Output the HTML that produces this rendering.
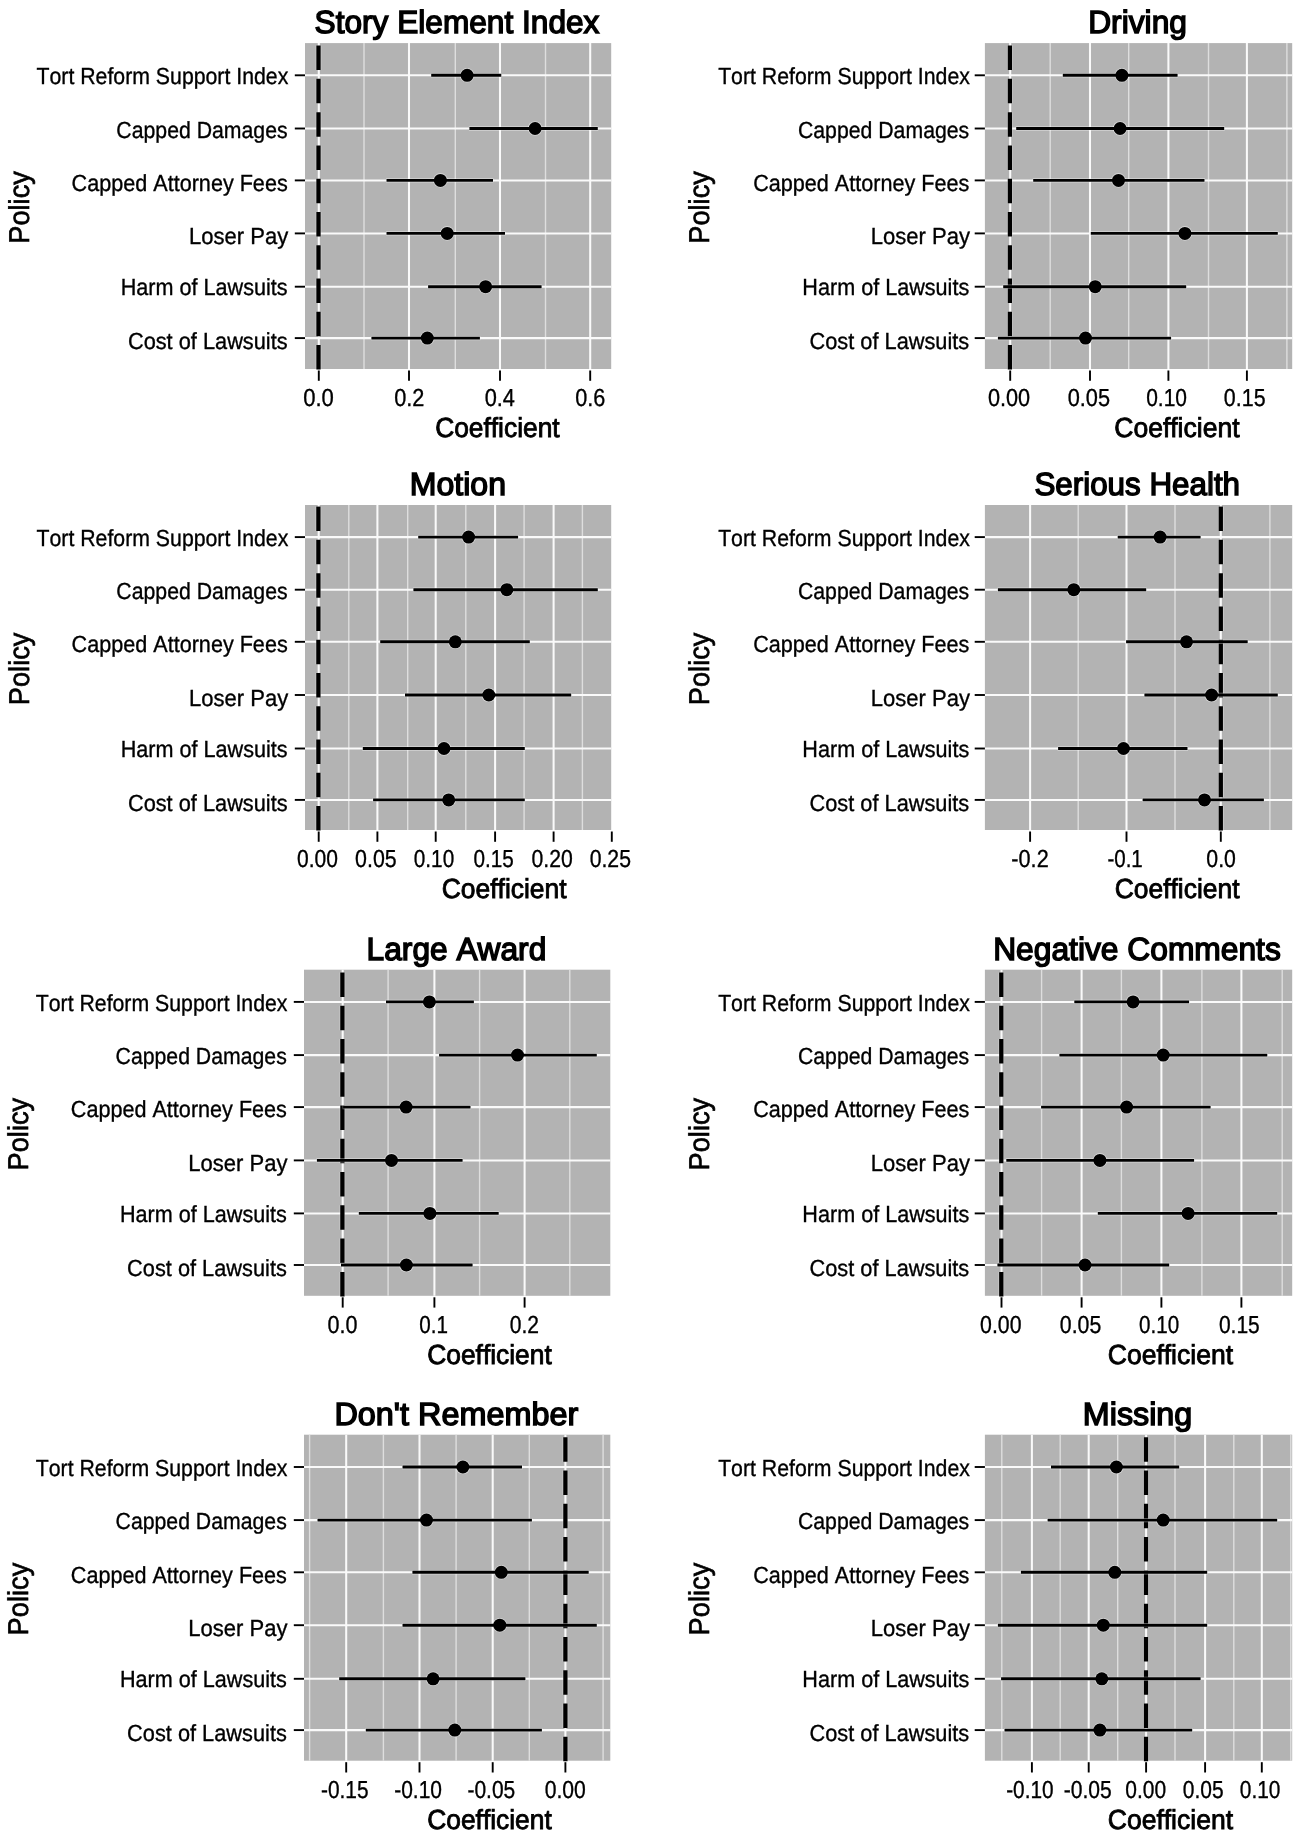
<!DOCTYPE html>
<html><head><meta charset="utf-8"><title>Coefficient plots</title>
<style>
html,body{margin:0;padding:0;background:#fff;}
svg{display:block;}
text{font-kerning:none;text-rendering:geometricPrecision;font-family:"Liberation Sans",Arial,Helvetica,sans-serif;fill:#000;}
</style></head><body>
<svg width="1300" height="1835" viewBox="0 0 1300 1835">
<defs><filter id="soft" x="0" y="0" width="1300" height="1835" filterUnits="userSpaceOnUse"><feGaussianBlur stdDeviation="0.45"/></filter></defs>
<g filter="url(#soft)">
<rect width="1300" height="1835" fill="#fff"/>
<rect x="305.0" y="43.1" width="306.20" height="325.90" fill="#b3b3b3"/>
<line x1="364.0" x2="364.0" y1="43.1" y2="369.0" stroke="#dedede" stroke-width="1.4"/>
<line x1="455.3" x2="455.3" y1="43.1" y2="369.0" stroke="#dedede" stroke-width="1.4"/>
<line x1="545.5" x2="545.5" y1="43.1" y2="369.0" stroke="#dedede" stroke-width="1.4"/>
<line x1="318.8" x2="318.8" y1="43.1" y2="369.0" stroke="#fafafa" stroke-width="2.05"/>
<line x1="409.0" x2="409.0" y1="43.1" y2="369.0" stroke="#fafafa" stroke-width="2.05"/>
<line x1="500.0" x2="500.0" y1="43.1" y2="369.0" stroke="#fafafa" stroke-width="2.05"/>
<line x1="590.2" x2="590.2" y1="43.1" y2="369.0" stroke="#fafafa" stroke-width="2.05"/>
<line x1="305.0" x2="611.2" y1="75.3" y2="75.3" stroke="#fafafa" stroke-width="2.05"/>
<line x1="305.0" x2="611.2" y1="128.5" y2="128.5" stroke="#fafafa" stroke-width="2.05"/>
<line x1="305.0" x2="611.2" y1="180.4" y2="180.4" stroke="#fafafa" stroke-width="2.05"/>
<line x1="305.0" x2="611.2" y1="233.4" y2="233.4" stroke="#fafafa" stroke-width="2.05"/>
<line x1="305.0" x2="611.2" y1="286.7" y2="286.7" stroke="#fafafa" stroke-width="2.05"/>
<line x1="305.0" x2="611.2" y1="338.1" y2="338.1" stroke="#fafafa" stroke-width="2.05"/>
<line x1="318.5" x2="318.5" y1="369.6" y2="43.1" stroke="#fff" stroke-opacity="0.4" stroke-width="5.6" stroke-dasharray="24.5 8.78"/>
<line x1="318.5" x2="318.5" y1="369.6" y2="43.1" stroke="#000" stroke-width="4.3" stroke-dasharray="24.5 8.78"/>
<line x1="430.7" x2="501.8" y1="75.3" y2="75.3" stroke="#fff" stroke-opacity="0.45" stroke-width="4.3"/>
<circle cx="467.1" cy="75.3" r="7.3" fill="#fff" fill-opacity="0.45"/>
<line x1="431.2" x2="501.3" y1="75.3" y2="75.3" stroke="#000" stroke-width="2.9"/>
<circle cx="467.1" cy="75.3" r="6.5" fill="#000"/>
<line x1="468.9" x2="598.3" y1="128.5" y2="128.5" stroke="#fff" stroke-opacity="0.45" stroke-width="4.3"/>
<circle cx="535.1" cy="128.5" r="7.3" fill="#fff" fill-opacity="0.45"/>
<line x1="469.4" x2="597.8" y1="128.5" y2="128.5" stroke="#000" stroke-width="2.9"/>
<circle cx="535.1" cy="128.5" r="6.5" fill="#000"/>
<line x1="386.0" x2="493.5" y1="180.4" y2="180.4" stroke="#fff" stroke-opacity="0.45" stroke-width="4.3"/>
<circle cx="440.4" cy="180.4" r="7.3" fill="#fff" fill-opacity="0.45"/>
<line x1="386.5" x2="493.0" y1="180.4" y2="180.4" stroke="#000" stroke-width="2.9"/>
<circle cx="440.4" cy="180.4" r="6.5" fill="#000"/>
<line x1="386.0" x2="505.5" y1="233.4" y2="233.4" stroke="#fff" stroke-opacity="0.45" stroke-width="4.3"/>
<circle cx="447.2" cy="233.4" r="7.3" fill="#fff" fill-opacity="0.45"/>
<line x1="386.5" x2="505.0" y1="233.4" y2="233.4" stroke="#000" stroke-width="2.9"/>
<circle cx="447.2" cy="233.4" r="6.5" fill="#000"/>
<line x1="427.6" x2="542.1" y1="286.7" y2="286.7" stroke="#fff" stroke-opacity="0.45" stroke-width="4.3"/>
<circle cx="485.6" cy="286.7" r="7.3" fill="#fff" fill-opacity="0.45"/>
<line x1="428.1" x2="541.6" y1="286.7" y2="286.7" stroke="#000" stroke-width="2.9"/>
<circle cx="485.6" cy="286.7" r="6.5" fill="#000"/>
<line x1="370.9" x2="480.4" y1="338.1" y2="338.1" stroke="#fff" stroke-opacity="0.45" stroke-width="4.3"/>
<circle cx="427.3" cy="338.1" r="7.3" fill="#fff" fill-opacity="0.45"/>
<line x1="371.4" x2="479.9" y1="338.1" y2="338.1" stroke="#000" stroke-width="2.9"/>
<circle cx="427.3" cy="338.1" r="6.5" fill="#000"/>
<line x1="294.8" x2="305.0" y1="75.3" y2="75.3" stroke="#000" stroke-width="1.9"/>
<text transform="translate(36.53,84.30) scale(0.9171,1)" font-size="23.2" stroke="#000" stroke-width="0.35">Tort Reform Support Index</text>
<line x1="294.8" x2="305.0" y1="128.5" y2="128.5" stroke="#000" stroke-width="1.9"/>
<text transform="translate(116.34,137.50) scale(0.9163,1)" font-size="23.2" stroke="#000" stroke-width="0.35">Capped Damages</text>
<line x1="294.8" x2="305.0" y1="180.4" y2="180.4" stroke="#000" stroke-width="1.9"/>
<text transform="translate(71.62,190.70) scale(0.9313,1)" font-size="23.2" stroke="#000" stroke-width="0.35">Capped Attorney Fees</text>
<line x1="294.8" x2="305.0" y1="233.4" y2="233.4" stroke="#000" stroke-width="1.9"/>
<text transform="translate(189.09,244.30) scale(0.9503,1)" font-size="23.2" stroke="#000" stroke-width="0.35">Loser Pay</text>
<line x1="294.8" x2="305.0" y1="286.7" y2="286.7" stroke="#000" stroke-width="1.9"/>
<text transform="translate(120.73,294.90) scale(0.9317,1)" font-size="23.2" stroke="#000" stroke-width="0.35">Harm of Lawsuits</text>
<line x1="294.8" x2="305.0" y1="338.1" y2="338.1" stroke="#000" stroke-width="1.9"/>
<text transform="translate(127.91,349.00) scale(0.9388,1)" font-size="23.2" stroke="#000" stroke-width="0.35">Cost of Lawsuits</text>
<line x1="318.8" x2="318.8" y1="370.5" y2="380.8" stroke="#000" stroke-width="1.9"/>
<line x1="409.0" x2="409.0" y1="370.5" y2="380.8" stroke="#000" stroke-width="1.9"/>
<line x1="500.0" x2="500.0" y1="370.5" y2="380.8" stroke="#000" stroke-width="1.9"/>
<line x1="590.2" x2="590.2" y1="370.5" y2="380.8" stroke="#000" stroke-width="1.9"/>
<text transform="translate(303.14,405.80) scale(0.8978,1)" font-size="24.6" stroke="#000" stroke-width="0.35">0.0</text>
<text transform="translate(394.15,405.80) scale(0.8842,1)" font-size="24.6" stroke="#000" stroke-width="0.35">0.2</text>
<text transform="translate(484.65,405.80) scale(0.8856,1)" font-size="24.6" stroke="#000" stroke-width="0.35">0.4</text>
<text transform="translate(575.16,405.80) scale(0.8795,1)" font-size="24.6" stroke="#000" stroke-width="0.35">0.6</text>
<text transform="translate(435.18,437.00) scale(0.9576,1)" font-size="27.5" stroke="#000" stroke-width="0.85">Coefficient</text>
<text transform="translate(29.20,243.78) rotate(-90) scale(0.9530,1)" font-size="28.6" stroke="#000" stroke-width="0.7">Policy</text>
<text transform="translate(314.58,32.60) scale(0.9886,1)" font-size="32.0" stroke="#000" stroke-width="1.45">Story Element Index</text>
<rect x="984.9" y="43.1" width="307.30" height="325.90" fill="#b3b3b3"/>
<line x1="1050.2" x2="1050.2" y1="43.1" y2="369.0" stroke="#dedede" stroke-width="1.4"/>
<line x1="1128.7" x2="1128.7" y1="43.1" y2="369.0" stroke="#dedede" stroke-width="1.4"/>
<line x1="1208.5" x2="1208.5" y1="43.1" y2="369.0" stroke="#dedede" stroke-width="1.4"/>
<line x1="1286.9" x2="1286.9" y1="43.1" y2="369.0" stroke="#dedede" stroke-width="1.4"/>
<line x1="1010.2" x2="1010.2" y1="43.1" y2="369.0" stroke="#fafafa" stroke-width="2.05"/>
<line x1="1090.0" x2="1090.0" y1="43.1" y2="369.0" stroke="#fafafa" stroke-width="2.05"/>
<line x1="1168.4" x2="1168.4" y1="43.1" y2="369.0" stroke="#fafafa" stroke-width="2.05"/>
<line x1="1246.9" x2="1246.9" y1="43.1" y2="369.0" stroke="#fafafa" stroke-width="2.05"/>
<line x1="984.9" x2="1292.2" y1="75.3" y2="75.3" stroke="#fafafa" stroke-width="2.05"/>
<line x1="984.9" x2="1292.2" y1="128.5" y2="128.5" stroke="#fafafa" stroke-width="2.05"/>
<line x1="984.9" x2="1292.2" y1="180.4" y2="180.4" stroke="#fafafa" stroke-width="2.05"/>
<line x1="984.9" x2="1292.2" y1="233.4" y2="233.4" stroke="#fafafa" stroke-width="2.05"/>
<line x1="984.9" x2="1292.2" y1="286.7" y2="286.7" stroke="#fafafa" stroke-width="2.05"/>
<line x1="984.9" x2="1292.2" y1="338.1" y2="338.1" stroke="#fafafa" stroke-width="2.05"/>
<line x1="1009.9" x2="1009.9" y1="369.6" y2="43.1" stroke="#fff" stroke-opacity="0.4" stroke-width="5.6" stroke-dasharray="24.5 8.78"/>
<line x1="1009.9" x2="1009.9" y1="369.6" y2="43.1" stroke="#000" stroke-width="4.3" stroke-dasharray="24.5 8.78"/>
<line x1="1062.3" x2="1178.1" y1="75.3" y2="75.3" stroke="#fff" stroke-opacity="0.45" stroke-width="4.3"/>
<circle cx="1121.9" cy="75.3" r="7.3" fill="#fff" fill-opacity="0.45"/>
<line x1="1062.8" x2="1177.6" y1="75.3" y2="75.3" stroke="#000" stroke-width="2.9"/>
<circle cx="1121.9" cy="75.3" r="6.5" fill="#000"/>
<line x1="1015.7" x2="1224.7" y1="128.5" y2="128.5" stroke="#fff" stroke-opacity="0.45" stroke-width="4.3"/>
<circle cx="1120.1" cy="128.5" r="7.3" fill="#fff" fill-opacity="0.45"/>
<line x1="1016.2" x2="1224.2" y1="128.5" y2="128.5" stroke="#000" stroke-width="2.9"/>
<circle cx="1120.1" cy="128.5" r="6.5" fill="#000"/>
<line x1="1032.7" x2="1205.0" y1="180.4" y2="180.4" stroke="#fff" stroke-opacity="0.45" stroke-width="4.3"/>
<circle cx="1118.5" cy="180.4" r="7.3" fill="#fff" fill-opacity="0.45"/>
<line x1="1033.2" x2="1204.5" y1="180.4" y2="180.4" stroke="#000" stroke-width="2.9"/>
<circle cx="1118.5" cy="180.4" r="6.5" fill="#000"/>
<line x1="1090.3" x2="1278.3" y1="233.4" y2="233.4" stroke="#fff" stroke-opacity="0.45" stroke-width="4.3"/>
<circle cx="1184.9" cy="233.4" r="7.3" fill="#fff" fill-opacity="0.45"/>
<line x1="1090.8" x2="1277.8" y1="233.4" y2="233.4" stroke="#000" stroke-width="2.9"/>
<circle cx="1184.9" cy="233.4" r="6.5" fill="#000"/>
<line x1="1002.7" x2="1186.7" y1="286.7" y2="286.7" stroke="#fff" stroke-opacity="0.45" stroke-width="4.3"/>
<circle cx="1095.2" cy="286.7" r="7.3" fill="#fff" fill-opacity="0.45"/>
<line x1="1003.2" x2="1186.2" y1="286.7" y2="286.7" stroke="#000" stroke-width="2.9"/>
<circle cx="1095.2" cy="286.7" r="6.5" fill="#000"/>
<line x1="997.4" x2="1171.6" y1="338.1" y2="338.1" stroke="#fff" stroke-opacity="0.45" stroke-width="4.3"/>
<circle cx="1085.5" cy="338.1" r="7.3" fill="#fff" fill-opacity="0.45"/>
<line x1="997.9" x2="1171.1" y1="338.1" y2="338.1" stroke="#000" stroke-width="2.9"/>
<circle cx="1085.5" cy="338.1" r="6.5" fill="#000"/>
<line x1="974.6999999999999" x2="984.9" y1="75.3" y2="75.3" stroke="#000" stroke-width="1.9"/>
<text transform="translate(718.13,84.30) scale(0.9171,1)" font-size="23.2" stroke="#000" stroke-width="0.35">Tort Reform Support Index</text>
<line x1="974.6999999999999" x2="984.9" y1="128.5" y2="128.5" stroke="#000" stroke-width="1.9"/>
<text transform="translate(797.94,137.50) scale(0.9163,1)" font-size="23.2" stroke="#000" stroke-width="0.35">Capped Damages</text>
<line x1="974.6999999999999" x2="984.9" y1="180.4" y2="180.4" stroke="#000" stroke-width="1.9"/>
<text transform="translate(753.22,190.70) scale(0.9313,1)" font-size="23.2" stroke="#000" stroke-width="0.35">Capped Attorney Fees</text>
<line x1="974.6999999999999" x2="984.9" y1="233.4" y2="233.4" stroke="#000" stroke-width="1.9"/>
<text transform="translate(870.69,244.30) scale(0.9503,1)" font-size="23.2" stroke="#000" stroke-width="0.35">Loser Pay</text>
<line x1="974.6999999999999" x2="984.9" y1="286.7" y2="286.7" stroke="#000" stroke-width="1.9"/>
<text transform="translate(802.33,294.90) scale(0.9317,1)" font-size="23.2" stroke="#000" stroke-width="0.35">Harm of Lawsuits</text>
<line x1="974.6999999999999" x2="984.9" y1="338.1" y2="338.1" stroke="#000" stroke-width="1.9"/>
<text transform="translate(809.51,349.00) scale(0.9388,1)" font-size="23.2" stroke="#000" stroke-width="0.35">Cost of Lawsuits</text>
<line x1="1010.2" x2="1010.2" y1="370.5" y2="380.8" stroke="#000" stroke-width="1.9"/>
<line x1="1090.0" x2="1090.0" y1="370.5" y2="380.8" stroke="#000" stroke-width="1.9"/>
<line x1="1168.4" x2="1168.4" y1="370.5" y2="380.8" stroke="#000" stroke-width="1.9"/>
<line x1="1246.9" x2="1246.9" y1="370.5" y2="380.8" stroke="#000" stroke-width="1.9"/>
<text transform="translate(987.95,405.80) scale(0.8809,1)" font-size="24.6" stroke="#000" stroke-width="0.35">0.00</text>
<text transform="translate(1067.65,405.80) scale(0.8845,1)" font-size="24.6" stroke="#000" stroke-width="0.35">0.05</text>
<text transform="translate(1146.18,405.80) scale(0.8526,1)" font-size="24.6" stroke="#000" stroke-width="0.35">0.10</text>
<text transform="translate(1223.86,405.80) scale(0.8714,1)" font-size="24.6" stroke="#000" stroke-width="0.35">0.15</text>
<text transform="translate(1114.27,437.00) scale(0.9638,1)" font-size="27.5" stroke="#000" stroke-width="0.85">Coefficient</text>
<text transform="translate(709.30,243.78) rotate(-90) scale(0.9530,1)" font-size="28.6" stroke="#000" stroke-width="0.7">Policy</text>
<text transform="translate(1088.20,32.60) scale(0.9918,1)" font-size="32.0" stroke="#000" stroke-width="1.45">Driving</text>
<rect x="305.0" y="505.0" width="306.20" height="325.00" fill="#b3b3b3"/>
<line x1="348.8" x2="348.8" y1="505.0" y2="830.0" stroke="#dedede" stroke-width="1.4"/>
<line x1="407.7" x2="407.7" y1="505.0" y2="830.0" stroke="#dedede" stroke-width="1.4"/>
<line x1="465.8" x2="465.8" y1="505.0" y2="830.0" stroke="#dedede" stroke-width="1.4"/>
<line x1="524.1" x2="524.1" y1="505.0" y2="830.0" stroke="#dedede" stroke-width="1.4"/>
<line x1="582.4" x2="582.4" y1="505.0" y2="830.0" stroke="#dedede" stroke-width="1.4"/>
<line x1="318.7" x2="318.7" y1="505.0" y2="830.0" stroke="#fafafa" stroke-width="2.05"/>
<line x1="377.4" x2="377.4" y1="505.0" y2="830.0" stroke="#fafafa" stroke-width="2.05"/>
<line x1="435.7" x2="435.7" y1="505.0" y2="830.0" stroke="#fafafa" stroke-width="2.05"/>
<line x1="495.1" x2="495.1" y1="505.0" y2="830.0" stroke="#fafafa" stroke-width="2.05"/>
<line x1="553.6" x2="553.6" y1="505.0" y2="830.0" stroke="#fafafa" stroke-width="2.05"/>
<line x1="305.0" x2="611.2" y1="537.1" y2="537.1" stroke="#fafafa" stroke-width="2.05"/>
<line x1="305.0" x2="611.2" y1="589.7" y2="589.7" stroke="#fafafa" stroke-width="2.05"/>
<line x1="305.0" x2="611.2" y1="641.8" y2="641.8" stroke="#fafafa" stroke-width="2.05"/>
<line x1="305.0" x2="611.2" y1="695.0" y2="695.0" stroke="#fafafa" stroke-width="2.05"/>
<line x1="305.0" x2="611.2" y1="748.5" y2="748.5" stroke="#fafafa" stroke-width="2.05"/>
<line x1="305.0" x2="611.2" y1="799.9" y2="799.9" stroke="#fafafa" stroke-width="2.05"/>
<line x1="318.4" x2="318.4" y1="830.6" y2="505.0" stroke="#fff" stroke-opacity="0.4" stroke-width="5.6" stroke-dasharray="24.5 8.78"/>
<line x1="318.4" x2="318.4" y1="830.6" y2="505.0" stroke="#000" stroke-width="4.3" stroke-dasharray="24.5 8.78"/>
<line x1="417.7" x2="518.6" y1="537.1" y2="537.1" stroke="#fff" stroke-opacity="0.45" stroke-width="4.3"/>
<circle cx="468.6" cy="537.1" r="7.3" fill="#fff" fill-opacity="0.45"/>
<line x1="418.2" x2="518.1" y1="537.1" y2="537.1" stroke="#000" stroke-width="2.9"/>
<circle cx="468.6" cy="537.1" r="6.5" fill="#000"/>
<line x1="412.9" x2="598.3" y1="589.7" y2="589.7" stroke="#fff" stroke-opacity="0.45" stroke-width="4.3"/>
<circle cx="506.8" cy="589.7" r="7.3" fill="#fff" fill-opacity="0.45"/>
<line x1="413.4" x2="597.8" y1="589.7" y2="589.7" stroke="#000" stroke-width="2.9"/>
<circle cx="506.8" cy="589.7" r="6.5" fill="#000"/>
<line x1="379.7" x2="530.3" y1="641.8" y2="641.8" stroke="#fff" stroke-opacity="0.45" stroke-width="4.3"/>
<circle cx="455.3" cy="641.8" r="7.3" fill="#fff" fill-opacity="0.45"/>
<line x1="380.2" x2="529.8" y1="641.8" y2="641.8" stroke="#000" stroke-width="2.9"/>
<circle cx="455.3" cy="641.8" r="6.5" fill="#000"/>
<line x1="404.5" x2="571.7" y1="695.0" y2="695.0" stroke="#fff" stroke-opacity="0.45" stroke-width="4.3"/>
<circle cx="488.8" cy="695.0" r="7.3" fill="#fff" fill-opacity="0.45"/>
<line x1="405.0" x2="571.2" y1="695.0" y2="695.0" stroke="#000" stroke-width="2.9"/>
<circle cx="488.8" cy="695.0" r="6.5" fill="#000"/>
<line x1="362.3" x2="525.3" y1="748.5" y2="748.5" stroke="#fff" stroke-opacity="0.45" stroke-width="4.3"/>
<circle cx="444.0" cy="748.5" r="7.3" fill="#fff" fill-opacity="0.45"/>
<line x1="362.8" x2="524.8" y1="748.5" y2="748.5" stroke="#000" stroke-width="2.9"/>
<circle cx="444.0" cy="748.5" r="6.5" fill="#000"/>
<line x1="372.6" x2="525.3" y1="799.9" y2="799.9" stroke="#fff" stroke-opacity="0.45" stroke-width="4.3"/>
<circle cx="448.7" cy="799.9" r="7.3" fill="#fff" fill-opacity="0.45"/>
<line x1="373.1" x2="524.8" y1="799.9" y2="799.9" stroke="#000" stroke-width="2.9"/>
<circle cx="448.7" cy="799.9" r="6.5" fill="#000"/>
<line x1="294.8" x2="305.0" y1="537.1" y2="537.1" stroke="#000" stroke-width="1.9"/>
<text transform="translate(36.53,546.10) scale(0.9171,1)" font-size="23.2" stroke="#000" stroke-width="0.35">Tort Reform Support Index</text>
<line x1="294.8" x2="305.0" y1="589.7" y2="589.7" stroke="#000" stroke-width="1.9"/>
<text transform="translate(116.34,598.70) scale(0.9163,1)" font-size="23.2" stroke="#000" stroke-width="0.35">Capped Damages</text>
<line x1="294.8" x2="305.0" y1="641.8" y2="641.8" stroke="#000" stroke-width="1.9"/>
<text transform="translate(71.62,652.10) scale(0.9313,1)" font-size="23.2" stroke="#000" stroke-width="0.35">Capped Attorney Fees</text>
<line x1="294.8" x2="305.0" y1="695.0" y2="695.0" stroke="#000" stroke-width="1.9"/>
<text transform="translate(189.09,705.90) scale(0.9503,1)" font-size="23.2" stroke="#000" stroke-width="0.35">Loser Pay</text>
<line x1="294.8" x2="305.0" y1="748.5" y2="748.5" stroke="#000" stroke-width="1.9"/>
<text transform="translate(120.73,756.70) scale(0.9317,1)" font-size="23.2" stroke="#000" stroke-width="0.35">Harm of Lawsuits</text>
<line x1="294.8" x2="305.0" y1="799.9" y2="799.9" stroke="#000" stroke-width="1.9"/>
<text transform="translate(127.91,810.80) scale(0.9388,1)" font-size="23.2" stroke="#000" stroke-width="0.35">Cost of Lawsuits</text>
<line x1="318.7" x2="318.7" y1="831.5" y2="841.8" stroke="#000" stroke-width="1.9"/>
<line x1="377.4" x2="377.4" y1="831.5" y2="841.8" stroke="#000" stroke-width="1.9"/>
<line x1="435.7" x2="435.7" y1="831.5" y2="841.8" stroke="#000" stroke-width="1.9"/>
<line x1="495.1" x2="495.1" y1="831.5" y2="841.8" stroke="#000" stroke-width="1.9"/>
<line x1="553.6" x2="553.6" y1="831.5" y2="841.8" stroke="#000" stroke-width="1.9"/>
<line x1="611.8" x2="611.8" y1="831.5" y2="841.8" stroke="#000" stroke-width="1.9"/>
<text transform="translate(296.98,866.80) scale(0.8548,1)" font-size="24.6" stroke="#000" stroke-width="0.35">0.00</text>
<text transform="translate(355.07,866.80) scale(0.8692,1)" font-size="24.6" stroke="#000" stroke-width="0.35">0.05</text>
<text transform="translate(413.79,866.80) scale(0.8439,1)" font-size="24.6" stroke="#000" stroke-width="0.35">0.10</text>
<text transform="translate(473.39,866.80) scale(0.8431,1)" font-size="24.6" stroke="#000" stroke-width="0.35">0.15</text>
<text transform="translate(531.47,866.80) scale(0.8613,1)" font-size="24.6" stroke="#000" stroke-width="0.35">0.20</text>
<text transform="translate(589.67,866.80) scale(0.8627,1)" font-size="24.6" stroke="#000" stroke-width="0.35">0.25</text>
<text transform="translate(441.78,898.00) scale(0.9607,1)" font-size="27.5" stroke="#000" stroke-width="0.85">Coefficient</text>
<text transform="translate(29.20,705.23) rotate(-90) scale(0.9530,1)" font-size="28.6" stroke="#000" stroke-width="0.7">Policy</text>
<text transform="translate(409.77,494.50) scale(1.0015,1)" font-size="32.0" stroke="#000" stroke-width="1.45">Motion</text>
<rect x="984.9" y="505.0" width="307.30" height="325.00" fill="#b3b3b3"/>
<line x1="1078.2" x2="1078.2" y1="505.0" y2="830.0" stroke="#dedede" stroke-width="1.4"/>
<line x1="1175.0" x2="1175.0" y1="505.0" y2="830.0" stroke="#dedede" stroke-width="1.4"/>
<line x1="1269.9" x2="1269.9" y1="505.0" y2="830.0" stroke="#dedede" stroke-width="1.4"/>
<line x1="1030.1" x2="1030.1" y1="505.0" y2="830.0" stroke="#fafafa" stroke-width="2.05"/>
<line x1="1126.5" x2="1126.5" y1="505.0" y2="830.0" stroke="#fafafa" stroke-width="2.05"/>
<line x1="1220.8" x2="1220.8" y1="505.0" y2="830.0" stroke="#fafafa" stroke-width="2.05"/>
<line x1="984.9" x2="1292.2" y1="537.1" y2="537.1" stroke="#fafafa" stroke-width="2.05"/>
<line x1="984.9" x2="1292.2" y1="589.7" y2="589.7" stroke="#fafafa" stroke-width="2.05"/>
<line x1="984.9" x2="1292.2" y1="641.8" y2="641.8" stroke="#fafafa" stroke-width="2.05"/>
<line x1="984.9" x2="1292.2" y1="695.0" y2="695.0" stroke="#fafafa" stroke-width="2.05"/>
<line x1="984.9" x2="1292.2" y1="748.5" y2="748.5" stroke="#fafafa" stroke-width="2.05"/>
<line x1="984.9" x2="1292.2" y1="799.9" y2="799.9" stroke="#fafafa" stroke-width="2.05"/>
<line x1="1220.8" x2="1220.8" y1="830.6" y2="505.0" stroke="#fff" stroke-opacity="0.4" stroke-width="5.6" stroke-dasharray="24.5 8.78"/>
<line x1="1220.8" x2="1220.8" y1="830.6" y2="505.0" stroke="#000" stroke-width="4.3" stroke-dasharray="24.5 8.78"/>
<line x1="1117.2" x2="1201.1" y1="537.1" y2="537.1" stroke="#fff" stroke-opacity="0.45" stroke-width="4.3"/>
<circle cx="1160.1" cy="537.1" r="7.3" fill="#fff" fill-opacity="0.45"/>
<line x1="1117.7" x2="1200.6" y1="537.1" y2="537.1" stroke="#000" stroke-width="2.9"/>
<circle cx="1160.1" cy="537.1" r="6.5" fill="#000"/>
<line x1="997.4" x2="1146.7" y1="589.7" y2="589.7" stroke="#fff" stroke-opacity="0.45" stroke-width="4.3"/>
<circle cx="1073.8" cy="589.7" r="7.3" fill="#fff" fill-opacity="0.45"/>
<line x1="997.9" x2="1146.2" y1="589.7" y2="589.7" stroke="#000" stroke-width="2.9"/>
<circle cx="1073.8" cy="589.7" r="6.5" fill="#000"/>
<line x1="1125.6" x2="1248.2" y1="641.8" y2="641.8" stroke="#fff" stroke-opacity="0.45" stroke-width="4.3"/>
<circle cx="1186.5" cy="641.8" r="7.3" fill="#fff" fill-opacity="0.45"/>
<line x1="1126.1" x2="1247.7" y1="641.8" y2="641.8" stroke="#000" stroke-width="2.9"/>
<circle cx="1186.5" cy="641.8" r="6.5" fill="#000"/>
<line x1="1143.9" x2="1278.3" y1="695.0" y2="695.0" stroke="#fff" stroke-opacity="0.45" stroke-width="4.3"/>
<circle cx="1211.6" cy="695.0" r="7.3" fill="#fff" fill-opacity="0.45"/>
<line x1="1144.4" x2="1277.8" y1="695.0" y2="695.0" stroke="#000" stroke-width="2.9"/>
<circle cx="1211.6" cy="695.0" r="6.5" fill="#000"/>
<line x1="1057.6" x2="1188.0" y1="748.5" y2="748.5" stroke="#fff" stroke-opacity="0.45" stroke-width="4.3"/>
<circle cx="1123.5" cy="748.5" r="7.3" fill="#fff" fill-opacity="0.45"/>
<line x1="1058.1" x2="1187.5" y1="748.5" y2="748.5" stroke="#000" stroke-width="2.9"/>
<circle cx="1123.5" cy="748.5" r="6.5" fill="#000"/>
<line x1="1142.1" x2="1264.4" y1="799.9" y2="799.9" stroke="#fff" stroke-opacity="0.45" stroke-width="4.3"/>
<circle cx="1204.5" cy="799.9" r="7.3" fill="#fff" fill-opacity="0.45"/>
<line x1="1142.6" x2="1263.9" y1="799.9" y2="799.9" stroke="#000" stroke-width="2.9"/>
<circle cx="1204.5" cy="799.9" r="6.5" fill="#000"/>
<line x1="974.6999999999999" x2="984.9" y1="537.1" y2="537.1" stroke="#000" stroke-width="1.9"/>
<text transform="translate(718.13,546.10) scale(0.9171,1)" font-size="23.2" stroke="#000" stroke-width="0.35">Tort Reform Support Index</text>
<line x1="974.6999999999999" x2="984.9" y1="589.7" y2="589.7" stroke="#000" stroke-width="1.9"/>
<text transform="translate(797.94,598.70) scale(0.9163,1)" font-size="23.2" stroke="#000" stroke-width="0.35">Capped Damages</text>
<line x1="974.6999999999999" x2="984.9" y1="641.8" y2="641.8" stroke="#000" stroke-width="1.9"/>
<text transform="translate(753.22,652.10) scale(0.9313,1)" font-size="23.2" stroke="#000" stroke-width="0.35">Capped Attorney Fees</text>
<line x1="974.6999999999999" x2="984.9" y1="695.0" y2="695.0" stroke="#000" stroke-width="1.9"/>
<text transform="translate(870.69,705.90) scale(0.9503,1)" font-size="23.2" stroke="#000" stroke-width="0.35">Loser Pay</text>
<line x1="974.6999999999999" x2="984.9" y1="748.5" y2="748.5" stroke="#000" stroke-width="1.9"/>
<text transform="translate(802.33,756.70) scale(0.9317,1)" font-size="23.2" stroke="#000" stroke-width="0.35">Harm of Lawsuits</text>
<line x1="974.6999999999999" x2="984.9" y1="799.9" y2="799.9" stroke="#000" stroke-width="1.9"/>
<text transform="translate(809.51,810.80) scale(0.9388,1)" font-size="23.2" stroke="#000" stroke-width="0.35">Cost of Lawsuits</text>
<line x1="1030.1" x2="1030.1" y1="831.5" y2="841.8" stroke="#000" stroke-width="1.9"/>
<line x1="1126.5" x2="1126.5" y1="831.5" y2="841.8" stroke="#000" stroke-width="1.9"/>
<line x1="1220.8" x2="1220.8" y1="831.5" y2="841.8" stroke="#000" stroke-width="1.9"/>
<text transform="translate(1011.35,866.80) scale(0.8809,1)" font-size="24.6" stroke="#000" stroke-width="0.35">-0.2</text>
<text transform="translate(1107.40,866.80) scale(0.8349,1)" font-size="24.6" stroke="#000" stroke-width="0.35">-0.1</text>
<text transform="translate(1206.37,866.80) scale(0.8638,1)" font-size="24.6" stroke="#000" stroke-width="0.35">0.0</text>
<text transform="translate(1114.78,898.00) scale(0.9599,1)" font-size="27.5" stroke="#000" stroke-width="0.85">Coefficient</text>
<text transform="translate(709.30,705.23) rotate(-90) scale(0.9530,1)" font-size="28.6" stroke="#000" stroke-width="0.7">Policy</text>
<text transform="translate(1034.39,494.50) scale(0.9798,1)" font-size="32.0" stroke="#000" stroke-width="1.45">Serious Health</text>
<rect x="304.0" y="969.7" width="306.30" height="326.10" fill="#b3b3b3"/>
<line x1="388.1" x2="388.1" y1="969.7" y2="1295.8" stroke="#dedede" stroke-width="1.4"/>
<line x1="479.6" x2="479.6" y1="969.7" y2="1295.8" stroke="#dedede" stroke-width="1.4"/>
<line x1="569.8" x2="569.8" y1="969.7" y2="1295.8" stroke="#dedede" stroke-width="1.4"/>
<line x1="342.7" x2="342.7" y1="969.7" y2="1295.8" stroke="#fafafa" stroke-width="2.05"/>
<line x1="434.4" x2="434.4" y1="969.7" y2="1295.8" stroke="#fafafa" stroke-width="2.05"/>
<line x1="524.6" x2="524.6" y1="969.7" y2="1295.8" stroke="#fafafa" stroke-width="2.05"/>
<line x1="304.0" x2="610.3" y1="1001.9" y2="1001.9" stroke="#fafafa" stroke-width="2.05"/>
<line x1="304.0" x2="610.3" y1="1055.1" y2="1055.1" stroke="#fafafa" stroke-width="2.05"/>
<line x1="304.0" x2="610.3" y1="1107.1" y2="1107.1" stroke="#fafafa" stroke-width="2.05"/>
<line x1="304.0" x2="610.3" y1="1160.4" y2="1160.4" stroke="#fafafa" stroke-width="2.05"/>
<line x1="304.0" x2="610.3" y1="1213.4" y2="1213.4" stroke="#fafafa" stroke-width="2.05"/>
<line x1="304.0" x2="610.3" y1="1265.0" y2="1265.0" stroke="#fafafa" stroke-width="2.05"/>
<line x1="342.4" x2="342.4" y1="1296.3999999999999" y2="969.7" stroke="#fff" stroke-opacity="0.4" stroke-width="5.6" stroke-dasharray="24.5 8.78"/>
<line x1="342.4" x2="342.4" y1="1296.3999999999999" y2="969.7" stroke="#000" stroke-width="4.3" stroke-dasharray="24.5 8.78"/>
<line x1="385.5" x2="474.4" y1="1001.9" y2="1001.9" stroke="#fff" stroke-opacity="0.45" stroke-width="4.3"/>
<circle cx="429.4" cy="1001.9" r="7.3" fill="#fff" fill-opacity="0.45"/>
<line x1="386.0" x2="473.9" y1="1001.9" y2="1001.9" stroke="#000" stroke-width="2.9"/>
<circle cx="429.4" cy="1001.9" r="6.5" fill="#000"/>
<line x1="438.6" x2="597.3" y1="1055.1" y2="1055.1" stroke="#fff" stroke-opacity="0.45" stroke-width="4.3"/>
<circle cx="517.5" cy="1055.1" r="7.3" fill="#fff" fill-opacity="0.45"/>
<line x1="439.1" x2="596.8" y1="1055.1" y2="1055.1" stroke="#000" stroke-width="2.9"/>
<circle cx="517.5" cy="1055.1" r="6.5" fill="#000"/>
<line x1="342.6" x2="471.0" y1="1107.1" y2="1107.1" stroke="#fff" stroke-opacity="0.45" stroke-width="4.3"/>
<circle cx="406.1" cy="1107.1" r="7.3" fill="#fff" fill-opacity="0.45"/>
<line x1="343.1" x2="470.5" y1="1107.1" y2="1107.1" stroke="#000" stroke-width="2.9"/>
<circle cx="406.1" cy="1107.1" r="6.5" fill="#000"/>
<line x1="316.4" x2="463.1" y1="1160.4" y2="1160.4" stroke="#fff" stroke-opacity="0.45" stroke-width="4.3"/>
<circle cx="391.5" cy="1160.4" r="7.3" fill="#fff" fill-opacity="0.45"/>
<line x1="316.9" x2="462.6" y1="1160.4" y2="1160.4" stroke="#000" stroke-width="2.9"/>
<circle cx="391.5" cy="1160.4" r="6.5" fill="#000"/>
<line x1="358.3" x2="499.2" y1="1213.4" y2="1213.4" stroke="#fff" stroke-opacity="0.45" stroke-width="4.3"/>
<circle cx="429.9" cy="1213.4" r="7.3" fill="#fff" fill-opacity="0.45"/>
<line x1="358.8" x2="498.7" y1="1213.4" y2="1213.4" stroke="#000" stroke-width="2.9"/>
<circle cx="429.9" cy="1213.4" r="6.5" fill="#000"/>
<line x1="340.5" x2="473.1" y1="1265.0" y2="1265.0" stroke="#fff" stroke-opacity="0.45" stroke-width="4.3"/>
<circle cx="406.4" cy="1265.0" r="7.3" fill="#fff" fill-opacity="0.45"/>
<line x1="341.0" x2="472.6" y1="1265.0" y2="1265.0" stroke="#000" stroke-width="2.9"/>
<circle cx="406.4" cy="1265.0" r="6.5" fill="#000"/>
<line x1="293.8" x2="304.0" y1="1001.9" y2="1001.9" stroke="#000" stroke-width="1.9"/>
<text transform="translate(35.73,1010.90) scale(0.9171,1)" font-size="23.2" stroke="#000" stroke-width="0.35">Tort Reform Support Index</text>
<line x1="293.8" x2="304.0" y1="1055.1" y2="1055.1" stroke="#000" stroke-width="1.9"/>
<text transform="translate(115.54,1064.10) scale(0.9163,1)" font-size="23.2" stroke="#000" stroke-width="0.35">Capped Damages</text>
<line x1="293.8" x2="304.0" y1="1107.1" y2="1107.1" stroke="#000" stroke-width="1.9"/>
<text transform="translate(70.82,1117.40) scale(0.9313,1)" font-size="23.2" stroke="#000" stroke-width="0.35">Capped Attorney Fees</text>
<line x1="293.8" x2="304.0" y1="1160.4" y2="1160.4" stroke="#000" stroke-width="1.9"/>
<text transform="translate(188.29,1171.30) scale(0.9503,1)" font-size="23.2" stroke="#000" stroke-width="0.35">Loser Pay</text>
<line x1="293.8" x2="304.0" y1="1213.4" y2="1213.4" stroke="#000" stroke-width="1.9"/>
<text transform="translate(119.93,1221.60) scale(0.9317,1)" font-size="23.2" stroke="#000" stroke-width="0.35">Harm of Lawsuits</text>
<line x1="293.8" x2="304.0" y1="1265.0" y2="1265.0" stroke="#000" stroke-width="1.9"/>
<text transform="translate(127.11,1275.90) scale(0.9388,1)" font-size="23.2" stroke="#000" stroke-width="0.35">Cost of Lawsuits</text>
<line x1="342.7" x2="342.7" y1="1297.3" y2="1307.6" stroke="#000" stroke-width="1.9"/>
<line x1="434.4" x2="434.4" y1="1297.3" y2="1307.6" stroke="#000" stroke-width="1.9"/>
<line x1="524.6" x2="524.6" y1="1297.3" y2="1307.6" stroke="#000" stroke-width="1.9"/>
<text transform="translate(327.56,1332.60) scale(0.8762,1)" font-size="24.6" stroke="#000" stroke-width="0.35">0.0</text>
<text transform="translate(419.19,1332.60) scale(0.8392,1)" font-size="24.6" stroke="#000" stroke-width="0.35">0.1</text>
<text transform="translate(509.68,1332.60) scale(0.8561,1)" font-size="24.6" stroke="#000" stroke-width="0.35">0.2</text>
<text transform="translate(427.28,1363.80) scale(0.9576,1)" font-size="27.5" stroke="#000" stroke-width="0.85">Coefficient</text>
<text transform="translate(28.20,1170.48) rotate(-90) scale(0.9530,1)" font-size="28.6" stroke="#000" stroke-width="0.7">Policy</text>
<text transform="translate(366.60,959.60) scale(0.9902,1)" font-size="32.0" stroke="#000" stroke-width="1.45">Large Award</text>
<rect x="984.9" y="969.7" width="307.30" height="326.10" fill="#b3b3b3"/>
<line x1="1041.6" x2="1041.6" y1="969.7" y2="1295.8" stroke="#dedede" stroke-width="1.4"/>
<line x1="1121.4" x2="1121.4" y1="969.7" y2="1295.8" stroke="#dedede" stroke-width="1.4"/>
<line x1="1201.9" x2="1201.9" y1="969.7" y2="1295.8" stroke="#dedede" stroke-width="1.4"/>
<line x1="1282.2" x2="1282.2" y1="969.7" y2="1295.8" stroke="#dedede" stroke-width="1.4"/>
<line x1="1001.5" x2="1001.5" y1="969.7" y2="1295.8" stroke="#fafafa" stroke-width="2.05"/>
<line x1="1081.6" x2="1081.6" y1="969.7" y2="1295.8" stroke="#fafafa" stroke-width="2.05"/>
<line x1="1161.4" x2="1161.4" y1="969.7" y2="1295.8" stroke="#fafafa" stroke-width="2.05"/>
<line x1="1241.4" x2="1241.4" y1="969.7" y2="1295.8" stroke="#fafafa" stroke-width="2.05"/>
<line x1="984.9" x2="1292.2" y1="1001.9" y2="1001.9" stroke="#fafafa" stroke-width="2.05"/>
<line x1="984.9" x2="1292.2" y1="1055.1" y2="1055.1" stroke="#fafafa" stroke-width="2.05"/>
<line x1="984.9" x2="1292.2" y1="1107.1" y2="1107.1" stroke="#fafafa" stroke-width="2.05"/>
<line x1="984.9" x2="1292.2" y1="1160.4" y2="1160.4" stroke="#fafafa" stroke-width="2.05"/>
<line x1="984.9" x2="1292.2" y1="1213.4" y2="1213.4" stroke="#fafafa" stroke-width="2.05"/>
<line x1="984.9" x2="1292.2" y1="1265.0" y2="1265.0" stroke="#fafafa" stroke-width="2.05"/>
<line x1="1001.3" x2="1001.3" y1="1296.3999999999999" y2="969.7" stroke="#fff" stroke-opacity="0.4" stroke-width="5.6" stroke-dasharray="24.5 8.78"/>
<line x1="1001.3" x2="1001.3" y1="1296.3999999999999" y2="969.7" stroke="#000" stroke-width="4.3" stroke-dasharray="24.5 8.78"/>
<line x1="1073.8" x2="1189.6" y1="1001.9" y2="1001.9" stroke="#fff" stroke-opacity="0.45" stroke-width="4.3"/>
<circle cx="1133.1" cy="1001.9" r="7.3" fill="#fff" fill-opacity="0.45"/>
<line x1="1074.3" x2="1189.1" y1="1001.9" y2="1001.9" stroke="#000" stroke-width="2.9"/>
<circle cx="1133.1" cy="1001.9" r="6.5" fill="#000"/>
<line x1="1058.9" x2="1267.8" y1="1055.1" y2="1055.1" stroke="#fff" stroke-opacity="0.45" stroke-width="4.3"/>
<circle cx="1163.2" cy="1055.1" r="7.3" fill="#fff" fill-opacity="0.45"/>
<line x1="1059.4" x2="1267.3" y1="1055.1" y2="1055.1" stroke="#000" stroke-width="2.9"/>
<circle cx="1163.2" cy="1055.1" r="6.5" fill="#000"/>
<line x1="1040.6" x2="1211.1" y1="1107.1" y2="1107.1" stroke="#fff" stroke-opacity="0.45" stroke-width="4.3"/>
<circle cx="1126.6" cy="1107.1" r="7.3" fill="#fff" fill-opacity="0.45"/>
<line x1="1041.1" x2="1210.6" y1="1107.1" y2="1107.1" stroke="#000" stroke-width="2.9"/>
<circle cx="1126.6" cy="1107.1" r="6.5" fill="#000"/>
<line x1="1005.8" x2="1194.6" y1="1160.4" y2="1160.4" stroke="#fff" stroke-opacity="0.45" stroke-width="4.3"/>
<circle cx="1099.9" cy="1160.4" r="7.3" fill="#fff" fill-opacity="0.45"/>
<line x1="1006.3" x2="1194.1" y1="1160.4" y2="1160.4" stroke="#000" stroke-width="2.9"/>
<circle cx="1099.9" cy="1160.4" r="6.5" fill="#000"/>
<line x1="1097.3" x2="1277.7" y1="1213.4" y2="1213.4" stroke="#fff" stroke-opacity="0.45" stroke-width="4.3"/>
<circle cx="1188.1" cy="1213.4" r="7.3" fill="#fff" fill-opacity="0.45"/>
<line x1="1097.8" x2="1277.2" y1="1213.4" y2="1213.4" stroke="#000" stroke-width="2.9"/>
<circle cx="1188.1" cy="1213.4" r="6.5" fill="#000"/>
<line x1="996.9" x2="1169.7" y1="1265.0" y2="1265.0" stroke="#fff" stroke-opacity="0.45" stroke-width="4.3"/>
<circle cx="1085.0" cy="1265.0" r="7.3" fill="#fff" fill-opacity="0.45"/>
<line x1="997.4" x2="1169.2" y1="1265.0" y2="1265.0" stroke="#000" stroke-width="2.9"/>
<circle cx="1085.0" cy="1265.0" r="6.5" fill="#000"/>
<line x1="974.6999999999999" x2="984.9" y1="1001.9" y2="1001.9" stroke="#000" stroke-width="1.9"/>
<text transform="translate(718.13,1010.90) scale(0.9171,1)" font-size="23.2" stroke="#000" stroke-width="0.35">Tort Reform Support Index</text>
<line x1="974.6999999999999" x2="984.9" y1="1055.1" y2="1055.1" stroke="#000" stroke-width="1.9"/>
<text transform="translate(797.94,1064.10) scale(0.9163,1)" font-size="23.2" stroke="#000" stroke-width="0.35">Capped Damages</text>
<line x1="974.6999999999999" x2="984.9" y1="1107.1" y2="1107.1" stroke="#000" stroke-width="1.9"/>
<text transform="translate(753.22,1117.40) scale(0.9313,1)" font-size="23.2" stroke="#000" stroke-width="0.35">Capped Attorney Fees</text>
<line x1="974.6999999999999" x2="984.9" y1="1160.4" y2="1160.4" stroke="#000" stroke-width="1.9"/>
<text transform="translate(870.69,1171.30) scale(0.9503,1)" font-size="23.2" stroke="#000" stroke-width="0.35">Loser Pay</text>
<line x1="974.6999999999999" x2="984.9" y1="1213.4" y2="1213.4" stroke="#000" stroke-width="1.9"/>
<text transform="translate(802.33,1221.60) scale(0.9317,1)" font-size="23.2" stroke="#000" stroke-width="0.35">Harm of Lawsuits</text>
<line x1="974.6999999999999" x2="984.9" y1="1265.0" y2="1265.0" stroke="#000" stroke-width="1.9"/>
<text transform="translate(809.51,1275.90) scale(0.9388,1)" font-size="23.2" stroke="#000" stroke-width="0.35">Cost of Lawsuits</text>
<line x1="1001.5" x2="1001.5" y1="1297.3" y2="1307.6" stroke="#000" stroke-width="1.9"/>
<line x1="1081.6" x2="1081.6" y1="1297.3" y2="1307.6" stroke="#000" stroke-width="1.9"/>
<line x1="1161.4" x2="1161.4" y1="1297.3" y2="1307.6" stroke="#000" stroke-width="1.9"/>
<line x1="1241.4" x2="1241.4" y1="1297.3" y2="1307.6" stroke="#000" stroke-width="1.9"/>
<text transform="translate(980.07,1332.60) scale(0.8656,1)" font-size="24.6" stroke="#000" stroke-width="0.35">0.00</text>
<text transform="translate(1059.87,1332.60) scale(0.8649,1)" font-size="24.6" stroke="#000" stroke-width="0.35">0.05</text>
<text transform="translate(1139.10,1332.60) scale(0.8374,1)" font-size="24.6" stroke="#000" stroke-width="0.35">0.10</text>
<text transform="translate(1218.88,1332.60) scale(0.8540,1)" font-size="24.6" stroke="#000" stroke-width="0.35">0.15</text>
<text transform="translate(1107.77,1363.80) scale(0.9638,1)" font-size="27.5" stroke="#000" stroke-width="0.85">Coefficient</text>
<text transform="translate(708.90,1170.48) rotate(-90) scale(0.9530,1)" font-size="28.6" stroke="#000" stroke-width="0.7">Policy</text>
<text transform="translate(993.20,959.60) scale(0.9920,1)" font-size="32.0" stroke="#000" stroke-width="1.45">Negative Comments</text>
<rect x="304.0" y="1434.7" width="306.30" height="326.00" fill="#b3b3b3"/>
<line x1="309.6" x2="309.6" y1="1434.7" y2="1760.7" stroke="#dedede" stroke-width="1.4"/>
<line x1="383.4" x2="383.4" y1="1434.7" y2="1760.7" stroke="#dedede" stroke-width="1.4"/>
<line x1="456.1" x2="456.1" y1="1434.7" y2="1760.7" stroke="#dedede" stroke-width="1.4"/>
<line x1="529.3" x2="529.3" y1="1434.7" y2="1760.7" stroke="#dedede" stroke-width="1.4"/>
<line x1="603.1" x2="603.1" y1="1434.7" y2="1760.7" stroke="#dedede" stroke-width="1.4"/>
<line x1="346.2" x2="346.2" y1="1434.7" y2="1760.7" stroke="#fafafa" stroke-width="2.05"/>
<line x1="419.5" x2="419.5" y1="1434.7" y2="1760.7" stroke="#fafafa" stroke-width="2.05"/>
<line x1="492.7" x2="492.7" y1="1434.7" y2="1760.7" stroke="#fafafa" stroke-width="2.05"/>
<line x1="565.4" x2="565.4" y1="1434.7" y2="1760.7" stroke="#fafafa" stroke-width="2.05"/>
<line x1="304.0" x2="610.3" y1="1467.0" y2="1467.0" stroke="#fafafa" stroke-width="2.05"/>
<line x1="304.0" x2="610.3" y1="1520.1" y2="1520.1" stroke="#fafafa" stroke-width="2.05"/>
<line x1="304.0" x2="610.3" y1="1572.3" y2="1572.3" stroke="#fafafa" stroke-width="2.05"/>
<line x1="304.0" x2="610.3" y1="1625.2" y2="1625.2" stroke="#fafafa" stroke-width="2.05"/>
<line x1="304.0" x2="610.3" y1="1678.8" y2="1678.8" stroke="#fafafa" stroke-width="2.05"/>
<line x1="304.0" x2="610.3" y1="1730.1" y2="1730.1" stroke="#fafafa" stroke-width="2.05"/>
<line x1="565.4" x2="565.4" y1="1761.3" y2="1434.7" stroke="#fff" stroke-opacity="0.4" stroke-width="5.6" stroke-dasharray="24.5 8.78"/>
<line x1="565.4" x2="565.4" y1="1761.3" y2="1434.7" stroke="#000" stroke-width="4.3" stroke-dasharray="24.5 8.78"/>
<line x1="402.0" x2="522.5" y1="1467.0" y2="1467.0" stroke="#fff" stroke-opacity="0.45" stroke-width="4.3"/>
<circle cx="462.9" cy="1467.0" r="7.3" fill="#fff" fill-opacity="0.45"/>
<line x1="402.5" x2="522.0" y1="1467.0" y2="1467.0" stroke="#000" stroke-width="2.9"/>
<circle cx="462.9" cy="1467.0" r="6.5" fill="#000"/>
<line x1="317.0" x2="532.4" y1="1520.1" y2="1520.1" stroke="#fff" stroke-opacity="0.45" stroke-width="4.3"/>
<circle cx="426.5" cy="1520.1" r="7.3" fill="#fff" fill-opacity="0.45"/>
<line x1="317.5" x2="531.9" y1="1520.1" y2="1520.1" stroke="#000" stroke-width="2.9"/>
<circle cx="426.5" cy="1520.1" r="6.5" fill="#000"/>
<line x1="411.9" x2="589.2" y1="1572.3" y2="1572.3" stroke="#fff" stroke-opacity="0.45" stroke-width="4.3"/>
<circle cx="501.3" cy="1572.3" r="7.3" fill="#fff" fill-opacity="0.45"/>
<line x1="412.4" x2="588.7" y1="1572.3" y2="1572.3" stroke="#000" stroke-width="2.9"/>
<circle cx="501.3" cy="1572.3" r="6.5" fill="#000"/>
<line x1="402.0" x2="597.3" y1="1625.2" y2="1625.2" stroke="#fff" stroke-opacity="0.45" stroke-width="4.3"/>
<circle cx="499.8" cy="1625.2" r="7.3" fill="#fff" fill-opacity="0.45"/>
<line x1="402.5" x2="596.8" y1="1625.2" y2="1625.2" stroke="#000" stroke-width="2.9"/>
<circle cx="499.8" cy="1625.2" r="6.5" fill="#000"/>
<line x1="338.7" x2="525.9" y1="1678.8" y2="1678.8" stroke="#fff" stroke-opacity="0.45" stroke-width="4.3"/>
<circle cx="433.1" cy="1678.8" r="7.3" fill="#fff" fill-opacity="0.45"/>
<line x1="339.2" x2="525.4" y1="1678.8" y2="1678.8" stroke="#000" stroke-width="2.9"/>
<circle cx="433.1" cy="1678.8" r="6.5" fill="#000"/>
<line x1="365.3" x2="542.4" y1="1730.1" y2="1730.1" stroke="#fff" stroke-opacity="0.45" stroke-width="4.3"/>
<circle cx="454.8" cy="1730.1" r="7.3" fill="#fff" fill-opacity="0.45"/>
<line x1="365.8" x2="541.9" y1="1730.1" y2="1730.1" stroke="#000" stroke-width="2.9"/>
<circle cx="454.8" cy="1730.1" r="6.5" fill="#000"/>
<line x1="293.8" x2="304.0" y1="1467.0" y2="1467.0" stroke="#000" stroke-width="1.9"/>
<text transform="translate(35.73,1476.00) scale(0.9171,1)" font-size="23.2" stroke="#000" stroke-width="0.35">Tort Reform Support Index</text>
<line x1="293.8" x2="304.0" y1="1520.1" y2="1520.1" stroke="#000" stroke-width="1.9"/>
<text transform="translate(115.54,1529.10) scale(0.9163,1)" font-size="23.2" stroke="#000" stroke-width="0.35">Capped Damages</text>
<line x1="293.8" x2="304.0" y1="1572.3" y2="1572.3" stroke="#000" stroke-width="1.9"/>
<text transform="translate(70.82,1582.60) scale(0.9313,1)" font-size="23.2" stroke="#000" stroke-width="0.35">Capped Attorney Fees</text>
<line x1="293.8" x2="304.0" y1="1625.2" y2="1625.2" stroke="#000" stroke-width="1.9"/>
<text transform="translate(188.29,1636.10) scale(0.9503,1)" font-size="23.2" stroke="#000" stroke-width="0.35">Loser Pay</text>
<line x1="293.8" x2="304.0" y1="1678.8" y2="1678.8" stroke="#000" stroke-width="1.9"/>
<text transform="translate(119.93,1687.00) scale(0.9317,1)" font-size="23.2" stroke="#000" stroke-width="0.35">Harm of Lawsuits</text>
<line x1="293.8" x2="304.0" y1="1730.1" y2="1730.1" stroke="#000" stroke-width="1.9"/>
<text transform="translate(127.11,1741.00) scale(0.9388,1)" font-size="23.2" stroke="#000" stroke-width="0.35">Cost of Lawsuits</text>
<line x1="346.2" x2="346.2" y1="1762.2" y2="1772.5" stroke="#000" stroke-width="1.9"/>
<line x1="419.5" x2="419.5" y1="1762.2" y2="1772.5" stroke="#000" stroke-width="1.9"/>
<line x1="492.7" x2="492.7" y1="1762.2" y2="1772.5" stroke="#000" stroke-width="1.9"/>
<line x1="565.4" x2="565.4" y1="1762.2" y2="1772.5" stroke="#000" stroke-width="1.9"/>
<text transform="translate(320.98,1797.50) scale(0.8486,1)" font-size="24.6" stroke="#000" stroke-width="0.35">-0.15</text>
<text transform="translate(394.18,1797.50) scale(0.8530,1)" font-size="24.6" stroke="#000" stroke-width="0.35">-0.10</text>
<text transform="translate(467.48,1797.50) scale(0.8523,1)" font-size="24.6" stroke="#000" stroke-width="0.35">-0.05</text>
<text transform="translate(544.68,1797.50) scale(0.8591,1)" font-size="24.6" stroke="#000" stroke-width="0.35">0.00</text>
<text transform="translate(427.28,1828.70) scale(0.9576,1)" font-size="27.5" stroke="#000" stroke-width="0.85">Coefficient</text>
<text transform="translate(28.20,1635.43) rotate(-90) scale(0.9530,1)" font-size="28.6" stroke="#000" stroke-width="0.7">Policy</text>
<text transform="translate(334.44,1424.70) scale(1.0122,1)" font-size="32.0" stroke="#000" stroke-width="1.45">Don't Remember</text>
<rect x="984.9" y="1434.7" width="307.30" height="326.00" fill="#b3b3b3"/>
<line x1="1001.8" x2="1001.8" y1="1434.7" y2="1760.7" stroke="#dedede" stroke-width="1.4"/>
<line x1="1060.2" x2="1060.2" y1="1434.7" y2="1760.7" stroke="#dedede" stroke-width="1.4"/>
<line x1="1117.7" x2="1117.7" y1="1434.7" y2="1760.7" stroke="#dedede" stroke-width="1.4"/>
<line x1="1175.0" x2="1175.0" y1="1434.7" y2="1760.7" stroke="#dedede" stroke-width="1.4"/>
<line x1="1233.8" x2="1233.8" y1="1434.7" y2="1760.7" stroke="#dedede" stroke-width="1.4"/>
<line x1="1290.8" x2="1290.8" y1="1434.7" y2="1760.7" stroke="#dedede" stroke-width="1.4"/>
<line x1="1031.9" x2="1031.9" y1="1434.7" y2="1760.7" stroke="#fafafa" stroke-width="2.05"/>
<line x1="1088.7" x2="1088.7" y1="1434.7" y2="1760.7" stroke="#fafafa" stroke-width="2.05"/>
<line x1="1146.1" x2="1146.1" y1="1434.7" y2="1760.7" stroke="#fafafa" stroke-width="2.05"/>
<line x1="1205.1" x2="1205.1" y1="1434.7" y2="1760.7" stroke="#fafafa" stroke-width="2.05"/>
<line x1="1261.8" x2="1261.8" y1="1434.7" y2="1760.7" stroke="#fafafa" stroke-width="2.05"/>
<line x1="984.9" x2="1292.2" y1="1467.0" y2="1467.0" stroke="#fafafa" stroke-width="2.05"/>
<line x1="984.9" x2="1292.2" y1="1520.1" y2="1520.1" stroke="#fafafa" stroke-width="2.05"/>
<line x1="984.9" x2="1292.2" y1="1572.3" y2="1572.3" stroke="#fafafa" stroke-width="2.05"/>
<line x1="984.9" x2="1292.2" y1="1625.2" y2="1625.2" stroke="#fafafa" stroke-width="2.05"/>
<line x1="984.9" x2="1292.2" y1="1678.8" y2="1678.8" stroke="#fafafa" stroke-width="2.05"/>
<line x1="984.9" x2="1292.2" y1="1730.1" y2="1730.1" stroke="#fafafa" stroke-width="2.05"/>
<line x1="1146.0" x2="1146.0" y1="1761.3" y2="1434.7" stroke="#fff" stroke-opacity="0.4" stroke-width="5.6" stroke-dasharray="24.5 8.78"/>
<line x1="1146.0" x2="1146.0" y1="1761.3" y2="1434.7" stroke="#000" stroke-width="4.3" stroke-dasharray="24.5 8.78"/>
<line x1="1050.5" x2="1179.7" y1="1467.0" y2="1467.0" stroke="#fff" stroke-opacity="0.45" stroke-width="4.3"/>
<circle cx="1116.4" cy="1467.0" r="7.3" fill="#fff" fill-opacity="0.45"/>
<line x1="1051.0" x2="1179.2" y1="1467.0" y2="1467.0" stroke="#000" stroke-width="2.9"/>
<circle cx="1116.4" cy="1467.0" r="6.5" fill="#000"/>
<line x1="1047.1" x2="1277.7" y1="1520.1" y2="1520.1" stroke="#fff" stroke-opacity="0.45" stroke-width="4.3"/>
<circle cx="1163.2" cy="1520.1" r="7.3" fill="#fff" fill-opacity="0.45"/>
<line x1="1047.6" x2="1277.2" y1="1520.1" y2="1520.1" stroke="#000" stroke-width="2.9"/>
<circle cx="1163.2" cy="1520.1" r="6.5" fill="#000"/>
<line x1="1020.4" x2="1207.7" y1="1572.3" y2="1572.3" stroke="#fff" stroke-opacity="0.45" stroke-width="4.3"/>
<circle cx="1114.8" cy="1572.3" r="7.3" fill="#fff" fill-opacity="0.45"/>
<line x1="1020.9" x2="1207.2" y1="1572.3" y2="1572.3" stroke="#000" stroke-width="2.9"/>
<circle cx="1114.8" cy="1572.3" r="6.5" fill="#000"/>
<line x1="997.4" x2="1207.7" y1="1625.2" y2="1625.2" stroke="#fff" stroke-opacity="0.45" stroke-width="4.3"/>
<circle cx="1103.3" cy="1625.2" r="7.3" fill="#fff" fill-opacity="0.45"/>
<line x1="997.9" x2="1207.2" y1="1625.2" y2="1625.2" stroke="#000" stroke-width="2.9"/>
<circle cx="1103.3" cy="1625.2" r="6.5" fill="#000"/>
<line x1="1000.6" x2="1201.1" y1="1678.8" y2="1678.8" stroke="#fff" stroke-opacity="0.45" stroke-width="4.3"/>
<circle cx="1101.8" cy="1678.8" r="7.3" fill="#fff" fill-opacity="0.45"/>
<line x1="1001.1" x2="1200.6" y1="1678.8" y2="1678.8" stroke="#000" stroke-width="2.9"/>
<circle cx="1101.8" cy="1678.8" r="6.5" fill="#000"/>
<line x1="1004.0" x2="1192.7" y1="1730.1" y2="1730.1" stroke="#fff" stroke-opacity="0.45" stroke-width="4.3"/>
<circle cx="1099.9" cy="1730.1" r="7.3" fill="#fff" fill-opacity="0.45"/>
<line x1="1004.5" x2="1192.2" y1="1730.1" y2="1730.1" stroke="#000" stroke-width="2.9"/>
<circle cx="1099.9" cy="1730.1" r="6.5" fill="#000"/>
<line x1="974.6999999999999" x2="984.9" y1="1467.0" y2="1467.0" stroke="#000" stroke-width="1.9"/>
<text transform="translate(718.13,1476.00) scale(0.9171,1)" font-size="23.2" stroke="#000" stroke-width="0.35">Tort Reform Support Index</text>
<line x1="974.6999999999999" x2="984.9" y1="1520.1" y2="1520.1" stroke="#000" stroke-width="1.9"/>
<text transform="translate(797.94,1529.10) scale(0.9163,1)" font-size="23.2" stroke="#000" stroke-width="0.35">Capped Damages</text>
<line x1="974.6999999999999" x2="984.9" y1="1572.3" y2="1572.3" stroke="#000" stroke-width="1.9"/>
<text transform="translate(753.22,1582.60) scale(0.9313,1)" font-size="23.2" stroke="#000" stroke-width="0.35">Capped Attorney Fees</text>
<line x1="974.6999999999999" x2="984.9" y1="1625.2" y2="1625.2" stroke="#000" stroke-width="1.9"/>
<text transform="translate(870.69,1636.10) scale(0.9503,1)" font-size="23.2" stroke="#000" stroke-width="0.35">Loser Pay</text>
<line x1="974.6999999999999" x2="984.9" y1="1678.8" y2="1678.8" stroke="#000" stroke-width="1.9"/>
<text transform="translate(802.33,1687.00) scale(0.9317,1)" font-size="23.2" stroke="#000" stroke-width="0.35">Harm of Lawsuits</text>
<line x1="974.6999999999999" x2="984.9" y1="1730.1" y2="1730.1" stroke="#000" stroke-width="1.9"/>
<text transform="translate(809.51,1741.00) scale(0.9388,1)" font-size="23.2" stroke="#000" stroke-width="0.35">Cost of Lawsuits</text>
<line x1="1031.9" x2="1031.9" y1="1762.2" y2="1772.5" stroke="#000" stroke-width="1.9"/>
<line x1="1088.7" x2="1088.7" y1="1762.2" y2="1772.5" stroke="#000" stroke-width="1.9"/>
<line x1="1146.1" x2="1146.1" y1="1762.2" y2="1772.5" stroke="#000" stroke-width="1.9"/>
<line x1="1205.1" x2="1205.1" y1="1762.2" y2="1772.5" stroke="#000" stroke-width="1.9"/>
<line x1="1261.8" x2="1261.8" y1="1762.2" y2="1772.5" stroke="#000" stroke-width="1.9"/>
<text transform="translate(1006.18,1797.50) scale(0.8456,1)" font-size="24.6" stroke="#000" stroke-width="0.35">-0.10</text>
<text transform="translate(1063.67,1797.50) scale(0.8578,1)" font-size="24.6" stroke="#000" stroke-width="0.35">-0.05</text>
<text transform="translate(1125.28,1797.50) scale(0.8526,1)" font-size="24.6" stroke="#000" stroke-width="0.35">0.00</text>
<text transform="translate(1182.78,1797.50) scale(0.8540,1)" font-size="24.6" stroke="#000" stroke-width="0.35">0.05</text>
<text transform="translate(1239.79,1797.50) scale(0.8482,1)" font-size="24.6" stroke="#000" stroke-width="0.35">0.10</text>
<text transform="translate(1107.77,1828.70) scale(0.9638,1)" font-size="27.5" stroke="#000" stroke-width="0.85">Coefficient</text>
<text transform="translate(708.90,1635.43) rotate(-90) scale(0.9530,1)" font-size="28.6" stroke="#000" stroke-width="0.7">Policy</text>
<text transform="translate(1082.85,1424.70) scale(1.0089,1)" font-size="32.0" stroke="#000" stroke-width="1.45">Missing</text>
</g>
</svg>
</body></html>
